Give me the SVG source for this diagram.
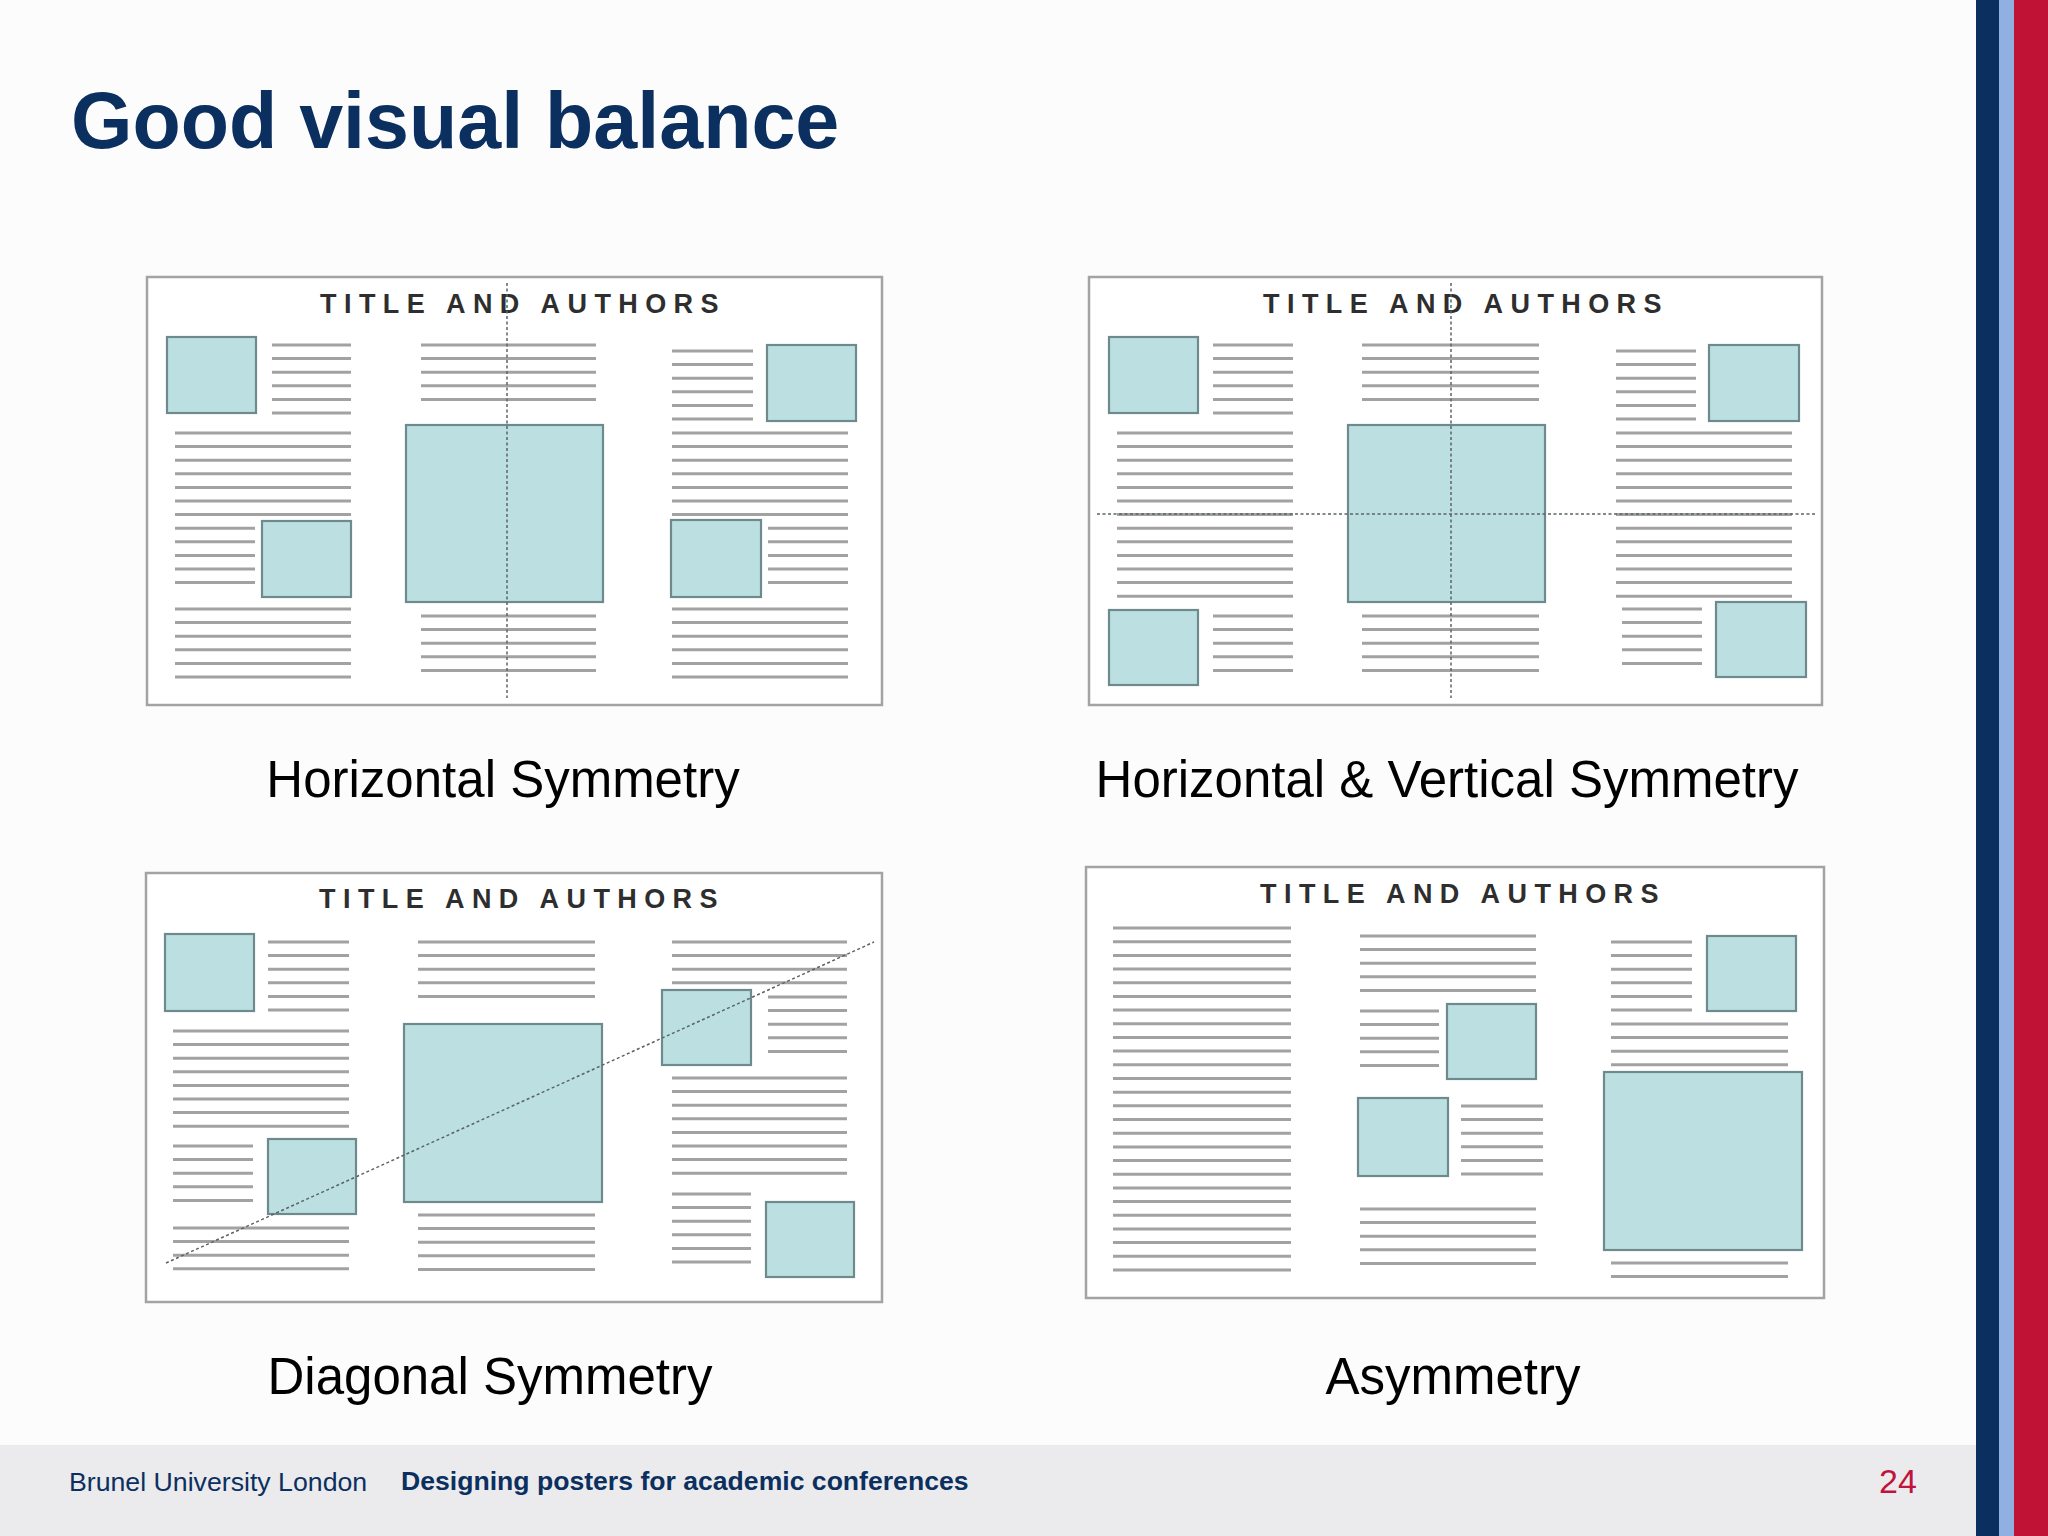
<svg xmlns="http://www.w3.org/2000/svg" width="2048" height="1536" viewBox="0 0 2048 1536">
<defs>
<style>
.bg{fill:#fcfcfd}
.frame{fill:#ffffff;stroke:#a3a3a3;stroke-width:2.5}
.ln{fill:none;stroke:#a2a2a2;stroke-width:3}
.img{fill:#bcdfe2;stroke:#6f8a8c;stroke-width:2.2}
.axis{fill:none;stroke:#5a6468;stroke-width:1.5;stroke-dasharray:3 2.5}
.ptitle{font-family:"Liberation Sans",Arial,sans-serif;font-size:27px;font-weight:bold;fill:#2e2e2e;letter-spacing:7.4px;text-anchor:middle}
.cap{font-family:"Liberation Sans",Arial,sans-serif;font-size:51px;fill:#000000;text-anchor:middle}
</style>
</defs>
<rect class="bg" x="0" y="0" width="2048" height="1536"/>

<!-- slide title -->
<text x="71" y="148" font-family="'Liberation Sans',Arial,sans-serif" font-size="79" font-weight="bold" fill="#0b3060">Good visual balance</text>

<!-- Panel 1: Horizontal Symmetry -->
<g id="panel-horizontal" transform="translate(147,277)">
<rect class="frame" x="0" y="0" width="735" height="428"/>
<text class="ptitle" x="376" y="36">TITLE AND AUTHORS</text>
<path class="ln" d="M125 68H204M125 81.6H204M125 95.2H204M125 108.8H204M125 122.4H204M125 136H204M28 156H204M28 169.6H204M28 183.2H204M28 196.8H204M28 210.4H204M28 224H204M28 237.6H204M28 251.2H108M28 264.8H108M28 278.4H108M28 292H108M28 305.6H108M28 332H204M28 345.6H204M28 359.2H204M28 372.8H204M28 386.4H204M28 400H204M274 68H449M274 81.6H449M274 95.2H449M274 108.8H449M274 122.4H449M274 339H449M274 352.6H449M274 366.2H449M274 379.8H449M274 393.4H449M525 74H606M525 87.6H606M525 101.2H606M525 114.8H606M525 128.4H606M525 142H606M525 156H701M525 169.6H701M525 183.2H701M525 196.8H701M525 210.4H701M525 224H701M525 237.6H701M621 251.2H701M621 264.8H701M621 278.4H701M621 292H701M621 305.6H701M525 332H701M525 345.6H701M525 359.2H701M525 372.8H701M525 386.4H701M525 400H701"/>
<rect class="img" x="20" y="60" width="89" height="76"/>
<rect class="img" x="115" y="244" width="89" height="76"/>
<rect class="img" x="259" y="148" width="197" height="177"/>
<rect class="img" x="620" y="68" width="89" height="76"/>
<rect class="img" x="524" y="243" width="90" height="77"/>
<path class="axis" d="M360 6V421"/>
</g>

<!-- Panel 2: Horizontal & Vertical Symmetry -->
<g id="panel-horizontal-vertical" transform="translate(1089,277)">
<rect class="frame" x="0" y="0" width="733" height="428"/>
<text class="ptitle" x="377" y="36">TITLE AND AUTHORS</text>
<path class="ln" d="M124 68H204M124 81.6H204M124 95.2H204M124 108.8H204M124 122.4H204M124 136H204M28 156H204M28 169.6H204M28 183.2H204M28 196.8H204M28 210.4H204M28 224H204M28 237.6H204M28 251.2H204M28 264.8H204M28 278.4H204M28 292H204M28 305.6H204M28 319.2H204M124 339H204M124 352.6H204M124 366.2H204M124 379.8H204M124 393.4H204M273 68H450M273 81.6H450M273 95.2H450M273 108.8H450M273 122.4H450M273 339H450M273 352.6H450M273 366.2H450M273 379.8H450M273 393.4H450M527 74H607M527 87.6H607M527 101.2H607M527 114.8H607M527 128.4H607M527 142H607M527 156H703M527 169.6H703M527 183.2H703M527 196.8H703M527 210.4H703M527 224H703M527 237.6H703M527 251.2H703M527 264.8H703M527 278.4H703M527 292H703M527 305.6H703M527 319.2H703M533 332H613M533 345.6H613M533 359.2H613M533 372.8H613M533 386.4H613"/>
<rect class="img" x="20" y="60" width="89" height="76"/>
<rect class="img" x="20" y="333" width="89" height="75"/>
<rect class="img" x="259" y="148" width="197" height="177"/>
<rect class="img" x="620" y="68" width="90" height="76"/>
<rect class="img" x="627" y="325" width="90" height="75"/>
<path class="axis" d="M362 6V421M8 237H728"/>
</g>

<!-- Panel 3: Diagonal Symmetry -->
<g id="panel-diagonal" transform="translate(146,873)">
<rect class="frame" x="0" y="0" width="736" height="429"/>
<text class="ptitle" x="376" y="35">TITLE AND AUTHORS</text>
<path class="ln" d="M122 69H203M122 82.6H203M122 96.2H203M122 109.8H203M122 123.4H203M122 137H203M27 158H203M27 171.6H203M27 185.2H203M27 198.8H203M27 212.4H203M27 226H203M27 239.6H203M27 253.2H203M27 273H107M27 286.6H107M27 300.2H107M27 313.8H107M27 327.4H107M27 355H203M27 368.6H203M27 382.2H203M27 395.8H203M272 69H449M272 82.6H449M272 96.2H449M272 109.8H449M272 123.4H449M272 342H449M272 355.6H449M272 369.2H449M272 382.8H449M272 396.4H449M526 69H701M526 82.6H701M526 96.2H701M526 109.8H701M622 124H701M622 137.6H701M622 151.2H701M622 164.8H701M622 178.4H701M526 205H701M526 218.6H701M526 232.2H701M526 245.8H701M526 259.4H701M526 273H701M526 286.6H701M526 300.2H701M526 321H605M526 334.6H605M526 348.2H605M526 361.8H605M526 375.4H605M526 389H605"/>
<rect class="img" x="19" y="61" width="89" height="77"/>
<rect class="img" x="122" y="266" width="88" height="75"/>
<rect class="img" x="258" y="151" width="198" height="178"/>
<rect class="img" x="516" y="117" width="89" height="75"/>
<rect class="img" x="620" y="329" width="88" height="75"/>
<path class="axis" d="M20 390L728 69"/>
</g>

<!-- Panel 4: Asymmetry -->
<g id="panel-asymmetry" transform="translate(1086,867)">
<rect class="frame" x="0" y="0" width="738" height="431"/>
<text class="ptitle" x="377" y="36">TITLE AND AUTHORS</text>
<path class="ln" d="M27 61H205M27 74.7H205M27 88.4H205M27 102H205M27 115.7H205M27 129.4H205M27 143.1H205M27 156.8H205M27 170.4H205M27 184.1H205M27 197.8H205M27 211.5H205M27 225.2H205M27 238.8H205M27 252.5H205M27 266.2H205M27 279.9H205M27 293.6H205M27 307.2H205M27 320.9H205M27 334.6H205M27 348.3H205M27 362H205M27 375.6H205M27 389.3H205M27 403H205M274 69H450M274 82.6H450M274 96.2H450M274 109.8H450M274 123.4H450M274 144H353M274 157.6H353M274 171.2H353M274 184.8H353M274 198.4H353M375 239H457M375 252.6H457M375 266.2H457M375 279.8H457M375 293.4H457M375 307H457M274 342H450M274 355.6H450M274 369.2H450M274 382.8H450M274 396.4H450M525 75H606M525 88.6H606M525 102.2H606M525 115.8H606M525 129.4H606M525 143H606M525 157H702M525 170.6H702M525 184.2H702M525 197.8H702M525 396H702M525 409.6H702"/>
<rect class="img" x="361" y="137" width="89" height="75"/>
<rect class="img" x="272" y="231" width="90" height="78"/>
<rect class="img" x="621" y="69" width="89" height="75"/>
<rect class="img" x="518" y="205" width="198" height="178"/>
</g>

<!-- captions -->
<text class="cap" x="503" y="797">Horizontal Symmetry</text>
<text class="cap" x="1447" y="797">Horizontal &amp; Vertical Symmetry</text>
<text class="cap" x="490" y="1394">Diagonal Symmetry</text>
<text class="cap" x="1453" y="1394">Asymmetry</text>

<!-- footer -->
<rect x="0" y="1445" width="1976" height="91" fill="#ebebed"/>
<text x="69" y="1491" font-family="'Liberation Sans',Arial,sans-serif" font-size="26.7" fill="#0b3060">Brunel University London</text>
<text x="401" y="1490" font-family="'Liberation Sans',Arial,sans-serif" font-size="26.6" font-weight="bold" fill="#0b3060">Designing posters for academic conferences</text>
<text x="1879" y="1493" font-family="'Liberation Sans',Arial,sans-serif" font-size="34" fill="#c0143c">24</text>

<!-- side stripes -->
<rect x="1976" y="0" width="23" height="1536" fill="#0b3060"/>
<rect x="1999" y="0" width="15" height="1536" fill="#8fb0e0"/>
<rect x="2014" y="0" width="34" height="1536" fill="#c01235"/>
</svg>
